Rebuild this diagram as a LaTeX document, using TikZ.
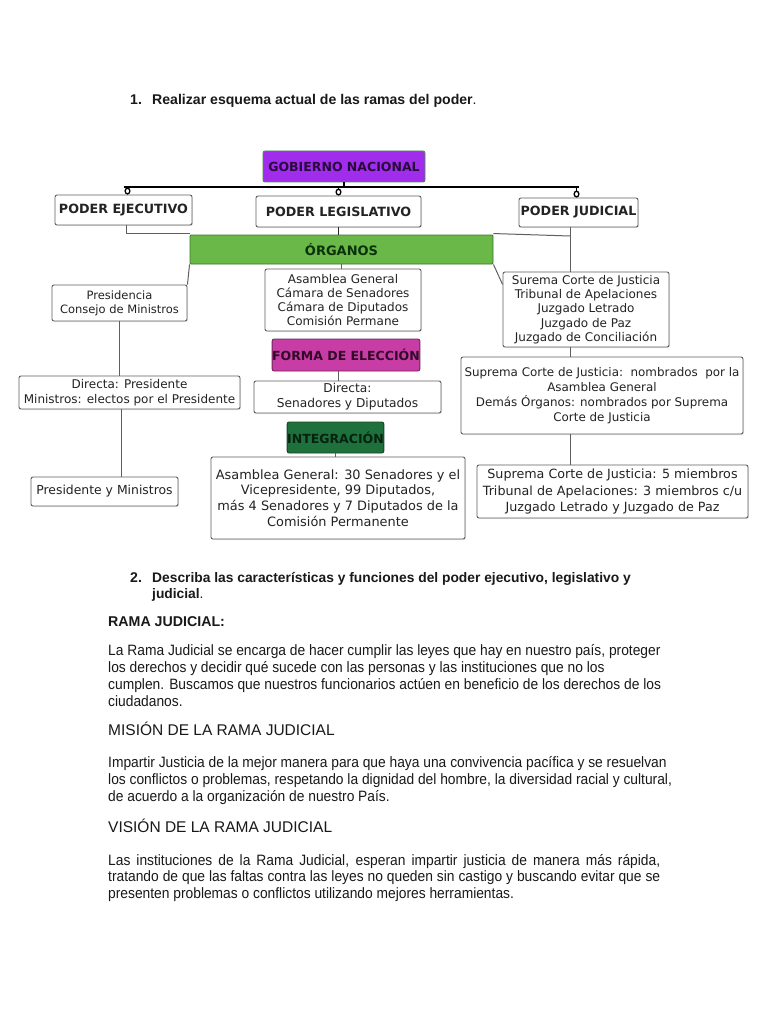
\documentclass[tikz,border=0pt]{standalone}
\usepackage{fontspec}
\setmainfont{Liberation Sans}
\newfontfamily\bodyf[FakeStretch=0.92]{Liberation Sans}
\newfontfamily\djv{DejaVu Sans}
\usetikzlibrary{arrows.meta,calc,shadows}
\definecolor{gobfill}{RGB}{160,45,235}
\definecolor{gobborder}{RGB}{70,150,70}
\definecolor{gobtext}{RGB}{40,10,60}
\definecolor{orgfill}{RGB}{106,184,72}
\definecolor{orgborder}{RGB}{60,120,40}
\definecolor{orgtext}{RGB}{10,50,10}
\definecolor{formfill}{RGB}{200,60,165}
\definecolor{formborder}{RGB}{110,40,90}
\definecolor{formtext}{RGB}{50,10,40}
\definecolor{intfill}{RGB}{30,112,60}
\definecolor{intborder}{RGB}{20,70,40}
\definecolor{inttext}{RGB}{5,35,15}
\definecolor{boxline}{RGB}{95,95,95}
\definecolor{txt}{RGB}{35,35,35}
\tikzset{
  box/.style={draw=boxline, fill=white, rounded corners=2pt, line width=0.9pt,
    inner sep=0pt, align=center, text=txt,
    drop shadow={shadow xshift=1pt, shadow yshift=-1pt, fill=black!18}},
  hdr/.style={box, font=\djv\bfseries\fontsize{12.7}{14}\selectfont},
  colbox/.style={rounded corners=2pt, line width=0.9pt, inner sep=0pt, align=center,
    font=\djv\bfseries\fontsize{12.5}{14}\selectfont},
  topline/.style={line width=1.4pt, draw=black},
  topstub/.style={line width=1.2pt, draw=black, -{Circle[open,length=7pt,width=6pt,line width=1.3pt]}},
  link/.style={line width=1pt, draw=boxline},
  darklink/.style={line width=1.3pt, draw=black!85},
  body/.style={anchor=base west, inner sep=0pt, text=black!90,
    font=\bodyf\fontsize{15}{17}\selectfont},
  bhead/.style={anchor=base west, inner sep=0pt, text=black!90,
    font=\bfseries\fontsize{14.1}{17}\selectfont},
  chead/.style={anchor=base west, inner sep=0pt, text=black!90,
    font=\fontsize{15.5}{17}\selectfont},
}
\begin{document}
\begin{tikzpicture}[x=1pt,y=-1pt]
\useasboundingbox[fill=white] (0,0) rectangle (768,1024);

% ---- heading 1
\node[bhead] (n1) at (130,105) {1.};
\node[bhead] (t1) at (152,105) {Realizar esquema actual de las ramas del poder\textmd{.}};

% ---- diagram nodes
\node[colbox, fill=gobfill, draw=gobborder, text=gobtext, minimum width=162pt, minimum height=31pt] (gob) at (344,166.5) {GOBIERNO NACIONAL};

\node[hdr, minimum width=137pt, minimum height=30pt] (ejec) at (123.5,210) {PODER EJECUTIVO};
\node[hdr, minimum width=165pt, minimum height=31pt] (leg) at (338.5,211.5) {PODER LEGISLATIVO};
\node[hdr, minimum width=119pt, minimum height=29pt] (jud) at (578.5,212.5) {PODER JUDICIAL};

\node[colbox, fill=orgfill, draw=orgborder, text=orgtext, rounded corners=1pt, minimum width=303pt, minimum height=29pt, font=\djv\bfseries\fontsize{13}{14}\selectfont] (org) at (341.5,249.5) {ÓRGANOS};

% ejecutivo column
\node[box, font=\djv\fontsize{11.5}{14}\selectfont, minimum width=135pt, minimum height=36pt] (pres) at (119.5,303) {Presidencia\\Consejo de Ministros};
\node[box, font=\djv\fontsize{12}{15}\selectfont, minimum width=221pt, minimum height=33pt] (dpres) at (129.5,392.5) {Directa: Presidente\\Ministros: electos por el Presidente};
\node[box, font=\djv\fontsize{12.4}{15}\selectfont, minimum width=147pt, minimum height=29pt] (pym) at (104.5,491.5) {Presidente y Ministros};

% legislativo column
\node[box, font=\djv\fontsize{12}{14}\selectfont, minimum width=156pt, minimum height=62pt] (asam) at (343,300) {Asamblea General\\Cámara de Senadores\\Cámara de Diputados\\Comisión Permane};
\node[colbox, fill=formfill, draw=formborder, text=formtext, minimum width=142pt, minimum height=32pt] (forma) at (346,355) {FORMA DE ELECCIÓN};
\node[box, font=\djv\fontsize{12.2}{15}\selectfont, minimum width=187pt, minimum height=32pt] (dir) at (347.5,397) {Directa:\\Senadores y Diputados};
\node[colbox, fill=intfill, draw=intborder, text=inttext, minimum width=95pt, minimum height=31pt] (integ) at (335.5,437.5) {INTEGRACIÓN};
\node[box, font=\djv\fontsize{12.9}{15.7}\selectfont, minimum width=254pt, minimum height=82pt] (asam30) at (338,498) {Asamblea General: 30 Senadores y el\\Vicepresidente, 99 Diputados,\\más 4 Senadores y 7 Diputados de la\\Comisión Permanente};

% judicial column
\node[box, font=\djv\fontsize{12}{14.4}\selectfont, minimum width=166pt, minimum height=75pt] (sur) at (586,309.5) {Surema Corte de Justicia\\Tribunal de Apelaciones\\Juzgado Letrado\\Juzgado de Paz\\Juzgado de Conciliación};
\node[box, font=\djv\fontsize{11.9}{15.2}\selectfont, minimum width=282pt, minimum height=77pt] (nomb) at (602,395.5) {Suprema Corte de Justicia:\ \ nombrados\ \ por la\\Asamblea General\\Demás Órganos: nombrados por Suprema\\Corte de Justicia};
\node[box, font=\djv\fontsize{12.7}{16.8}\selectfont, minimum width=271pt, minimum height=53pt] (miem) at (612.5,491.5) {Suprema Corte de Justicia: 5 miembros\\Tribunal de Apelaciones: 3 miembros c/u\\Juzgado Letrado y Juzgado de Paz};

% ---- connectors
\coordinate (hy) at (0,187);
\coordinate (jx) at (570,236);
\draw[topline] (ejec.north |- hy) -- (jud.north |- hy);
\draw[topline] (gob.south) -- (gob.south |- hy);
\draw[topstub] ([xshift=4pt]ejec.north |- hy) -- ([xshift=4pt]ejec.north);
\draw[topstub] (leg.north |- hy) -- (leg.north);
\draw[topstub] ([xshift=-2pt]jud.north |- hy) -- ([xshift=-2pt]jud.north);

\draw[link] ([xshift=3pt]ejec.south) |- ([yshift=1pt]org.north west);
\draw[darklink] (leg.south) -- (leg.south |- org.north);
\draw[link] (jud.south -| jx) -- (sur.north -| jx);
\draw[link] ([yshift=1pt]org.north east) -- (jx);

\draw[link] (org.south west) -- (pres.north east);
\draw[link] (org.south) -- (org.south |- asam.north);
\draw[link] (org.south east) -- ($(sur.north west)!0.17!(sur.south west)$);

\draw[link] (pres.south) -- (pres.south |- dpres.north);
\draw[link] ([xshift=1.5pt]pres.south |- dpres.south) -- ([xshift=1.5pt]pres.south |- pym.north);

\draw[link] ([xshift=-8pt]forma.south) -- ([xshift=-8pt]forma.south |- dir.north);
\draw[link] (integ.south) -- (integ.south |- asam30.north);

\draw[link] (sur.south -| jx) -- (nomb.north -| jx);
\draw[link] (nomb.south -| jx) -- (miem.north -| jx);

% ---- heading 2
\node[bhead] (n2) at (130,582) {2.};
\node[bhead, font=\bfseries\fontsize{13.8}{17}\selectfont] (t2a) at (152,582) {Describa las características y funciones del poder ejecutivo, legislativo y};
\node[bhead, font=\bfseries\fontsize{13.8}{17}\selectfont] (t2b) at (152,598) {judicial\textmd{.}};

\node[bhead, font=\bfseries\fontsize{14.2}{17}\selectfont] (rj) at (108,626) {RAMA JUDICIAL:};

\node[body] (p1a) at (108,655) {La Rama Judicial se encarga de hacer cumplir las leyes que hay en nuestro país, proteger};
\node[body] (p1b) at (108,672) {los derechos y decidir qué sucede con las personas y las instituciones que no los};
\node[body] (p1c) at (108,689) {cumplen. Buscamos que nuestros funcionarios actúen en beneficio de los derechos de los};
\node[body] (p1d) at (108,706) {ciudadanos.};

\node[chead] (mis) at (108,735) {MISIÓN DE LA RAMA JUDICIAL};

\node[body] (p2a) at (108,767) {Impartir Justicia de la mejor manera para que haya una convivencia pacífica y se resuelvan};
\node[body] (p2b) at (108,784) {los conflictos o problemas, respetando la dignidad del hombre, la diversidad racial y cultural,};
\node[body] (p2c) at (108,801) {de acuerdo a la organización de nuestro País.};

\node[chead] (vis) at (108,832) {VISIÓN DE LA RAMA JUDICIAL};

\node[body] (p3a) at (108,865) {\makebox[552pt][s]{Las instituciones de la Rama Judicial, esperan impartir justicia de manera más rápida,}};
\node[body] (p3b) at (108,881) {\makebox[552pt][s]{tratando de que las faltas contra las leyes no queden sin castigo y buscando evitar que se}};
\node[body] (p3c) at (108,898) {presenten problemas o conflictos utilizando mejores herramientas.};
\end{tikzpicture}
\end{document}
